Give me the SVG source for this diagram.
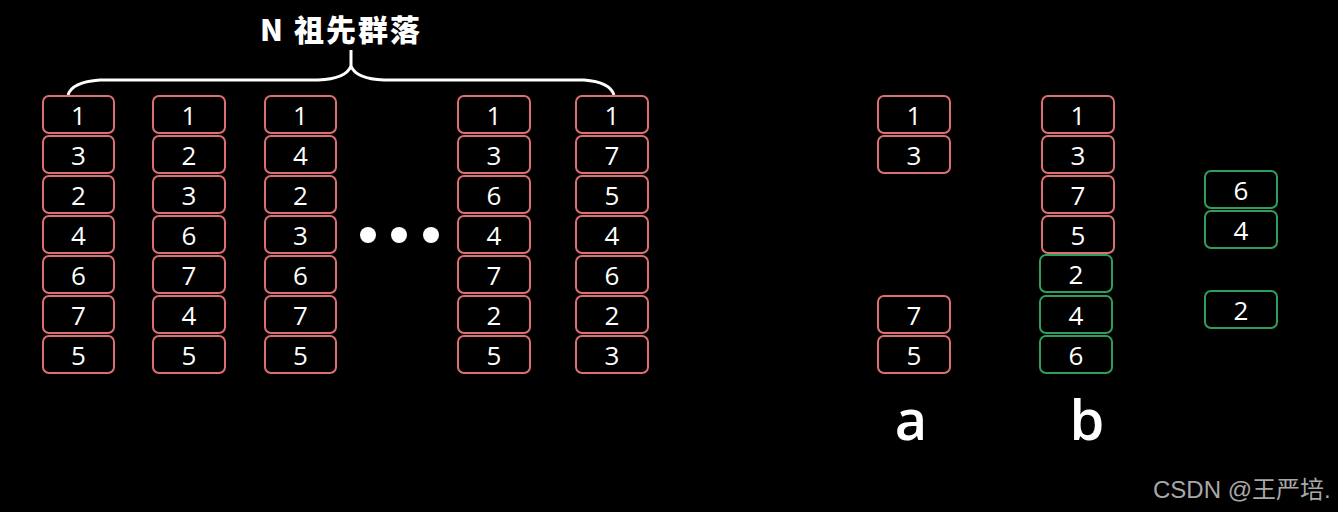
<svg xmlns="http://www.w3.org/2000/svg" width="1338" height="512" viewBox="0 0 1338 512">
<defs>
<style>
.r{fill:none;stroke:#dd6f72;stroke-width:2}
.g{fill:none;stroke:#2f9e5c;stroke-width:2}
.t{fill:#fff;font-family:"Open Sans","Noto Sans",sans-serif;font-size:26px;text-anchor:middle}
.lab{fill:#fff;font-family:"Open Sans","Noto Sans",sans-serif;font-size:56px;font-weight:600;text-anchor:middle}
</style>
</defs>
<rect width="1338" height="512" fill="#000"/>
<text x="341" y="41" fill="#fff" font-family="'Noto Sans CJK SC','Noto Sans',sans-serif" font-size="30" font-weight="900" letter-spacing="2" text-anchor="middle">N 祖先群落</text>
<g id="connectors">
<path d="M68,95 Q72,82 100,80 L318,80 Q346,79 351,66 L351,50 M351,66 Q356,79 384,80 L584,80 Q610,82 614,95" fill="none" stroke="#fff" stroke-width="3"/>
</g>
<g id="dots" fill="#fff">
<circle cx="368" cy="235" r="8"/><circle cx="399" cy="235" r="8"/><circle cx="431" cy="235" r="8"/>
</g>
<g id="col1">
<rect class="r" x="43" y="96" width="71" height="37" rx="6"/><text class="t" x="78.5" y="125">1</text>
<rect class="r" x="43" y="136" width="71" height="37" rx="6"/><text class="t" x="78.5" y="165">3</text>
<rect class="r" x="43" y="176" width="71" height="37" rx="6"/><text class="t" x="78.5" y="205">2</text>
<rect class="r" x="43" y="216" width="71" height="37" rx="6"/><text class="t" x="78.5" y="245">4</text>
<rect class="r" x="43" y="256" width="71" height="37" rx="6"/><text class="t" x="78.5" y="285">6</text>
<rect class="r" x="43" y="296" width="71" height="37" rx="6"/><text class="t" x="78.5" y="325">7</text>
<rect class="r" x="43" y="336" width="71" height="37" rx="6"/><text class="t" x="78.5" y="365">5</text>
</g>
<g id="col2">
<rect class="r" x="153" y="96" width="72" height="37" rx="6"/><text class="t" x="189" y="125">1</text>
<rect class="r" x="153" y="136" width="72" height="37" rx="6"/><text class="t" x="189" y="165">2</text>
<rect class="r" x="153" y="176" width="72" height="37" rx="6"/><text class="t" x="189" y="205">3</text>
<rect class="r" x="153" y="216" width="72" height="37" rx="6"/><text class="t" x="189" y="245">6</text>
<rect class="r" x="153" y="256" width="72" height="37" rx="6"/><text class="t" x="189" y="285">7</text>
<rect class="r" x="153" y="296" width="72" height="37" rx="6"/><text class="t" x="189" y="325">4</text>
<rect class="r" x="153" y="336" width="72" height="37" rx="6"/><text class="t" x="189" y="365">5</text>
</g>
<g id="col3">
<rect class="r" x="265" y="96" width="71" height="37" rx="6"/><text class="t" x="300.5" y="125">1</text>
<rect class="r" x="265" y="136" width="71" height="37" rx="6"/><text class="t" x="300.5" y="165">4</text>
<rect class="r" x="265" y="176" width="71" height="37" rx="6"/><text class="t" x="300.5" y="205">2</text>
<rect class="r" x="265" y="216" width="71" height="37" rx="6"/><text class="t" x="300.5" y="245">3</text>
<rect class="r" x="265" y="256" width="71" height="37" rx="6"/><text class="t" x="300.5" y="285">6</text>
<rect class="r" x="265" y="296" width="71" height="37" rx="6"/><text class="t" x="300.5" y="325">7</text>
<rect class="r" x="265" y="336" width="71" height="37" rx="6"/><text class="t" x="300.5" y="365">5</text>
</g>
<g id="col4">
<rect class="r" x="458" y="96" width="72" height="37" rx="6"/><text class="t" x="494" y="125">1</text>
<rect class="r" x="458" y="136" width="72" height="37" rx="6"/><text class="t" x="494" y="165">3</text>
<rect class="r" x="458" y="176" width="72" height="37" rx="6"/><text class="t" x="494" y="205">6</text>
<rect class="r" x="458" y="216" width="72" height="37" rx="6"/><text class="t" x="494" y="245">4</text>
<rect class="r" x="458" y="256" width="72" height="37" rx="6"/><text class="t" x="494" y="285">7</text>
<rect class="r" x="458" y="296" width="72" height="37" rx="6"/><text class="t" x="494" y="325">2</text>
<rect class="r" x="458" y="336" width="72" height="37" rx="6"/><text class="t" x="494" y="365">5</text>
</g>
<g id="col5">
<rect class="r" x="576" y="96" width="72" height="37" rx="6"/><text class="t" x="612" y="125">1</text>
<rect class="r" x="576" y="136" width="72" height="37" rx="6"/><text class="t" x="612" y="165">7</text>
<rect class="r" x="576" y="176" width="72" height="37" rx="6"/><text class="t" x="612" y="205">5</text>
<rect class="r" x="576" y="216" width="72" height="37" rx="6"/><text class="t" x="612" y="245">4</text>
<rect class="r" x="576" y="256" width="72" height="37" rx="6"/><text class="t" x="612" y="285">6</text>
<rect class="r" x="576" y="296" width="72" height="37" rx="6"/><text class="t" x="612" y="325">2</text>
<rect class="r" x="576" y="336" width="72" height="37" rx="6"/><text class="t" x="612" y="365">3</text>
</g>
<g id="colA">
<rect class="r" x="878" y="96" width="72" height="37" rx="6"/><text class="t" x="914" y="125">1</text>
<rect class="r" x="878" y="136" width="72" height="37" rx="6"/><text class="t" x="914" y="165">3</text>
<rect class="r" x="878" y="296" width="72" height="37" rx="6"/><text class="t" x="914" y="325">7</text>
<rect class="r" x="878" y="336" width="72" height="37" rx="6"/><text class="t" x="914" y="365">5</text>
<text class="lab" x="911" y="440">a</text>
</g>
<g id="colB">
<rect class="r" x="1042" y="96" width="72" height="37" rx="6"/><text class="t" x="1078" y="125">1</text>
<rect class="r" x="1042" y="136" width="72" height="37" rx="6"/><text class="t" x="1078" y="165">3</text>
<rect class="r" x="1042" y="176" width="72" height="37" rx="6"/><text class="t" x="1078" y="205">7</text>
<rect class="r" x="1042" y="216" width="72" height="37" rx="6"/><text class="t" x="1078" y="245">5</text>
<rect class="g" x="1040" y="255" width="72" height="37" rx="6"/><text class="t" x="1076" y="284">2</text>
<rect class="g" x="1040" y="296" width="72" height="37" rx="6"/><text class="t" x="1076" y="325">4</text>
<rect class="g" x="1040" y="336" width="72" height="37" rx="6"/><text class="t" x="1076" y="365">6</text>
<text class="lab" x="1087" y="440">b</text>
</g>
<g id="colC">
<rect class="g" x="1205" y="171" width="72" height="37" rx="6"/><text class="t" x="1241" y="200">6</text>
<rect class="g" x="1205" y="211" width="72" height="37" rx="6"/><text class="t" x="1241" y="240">4</text>
<rect class="g" x="1205" y="291" width="72" height="37" rx="6"/><text class="t" x="1241" y="320">2</text>
</g>
<text x="1153" y="498" fill="#a8a8a8" font-family="'Liberation Sans','Noto Sans CJK SC',sans-serif" font-size="24">CSDN @王严培.</text>
</svg>
